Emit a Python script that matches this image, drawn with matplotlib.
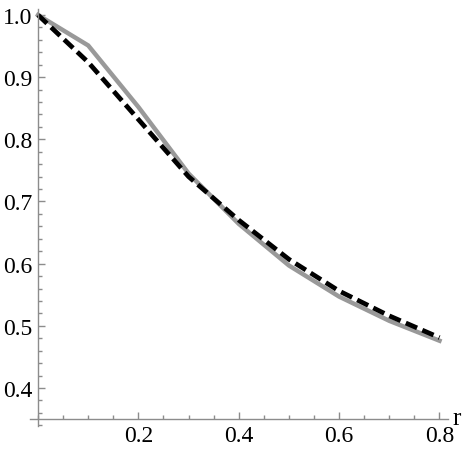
import matplotlib
matplotlib.use("Agg")
import matplotlib.pyplot as plt
from matplotlib.ticker import MultipleLocator, FixedLocator

# values
r = [0.0, 0.1, 0.2, 0.3, 0.4, 0.5, 0.6, 0.7, 0.8]
gray_curve = [1.0, 0.951, 0.852, 0.745, 0.664, 0.597, 0.547, 0.508, 0.476]
dashed_curve = [1.0, 0.924, 0.832, 0.740, 0.670, 0.607, 0.556, 0.516, 0.481]
xtick_vals = [0.2, 0.4, 0.6, 0.8]
ytick_vals = [0.4, 0.5, 0.6, 0.7, 0.8, 0.9, 1.0]

plt.rcParams['font.family'] = ['Liberation Serif', 'DejaVu Serif']

fig = plt.figure(figsize=(4.74, 4.56), dpi=100)
ax = fig.add_axes([0.0633, 0.0625, 0.8819, 0.916])

ax.plot(r, gray_curve, color='#999999', lw=3.2, solid_joinstyle='miter')
ax.plot(r, dashed_curve, color='black', lw=3.4, dashes=(2.6, 1.2))

ax.set_xlim(-0.016, 0.817)
ax.set_ylim(0.338, 1.01)

axis_col = '#8c8c8c'
for s in ['top', 'right']:
    ax.spines[s].set_visible(False)
ax.spines['left'].set_position(('data', 0.0))
ax.spines['bottom'].set_position(('data', 0.35))
for s in ['left', 'bottom']:
    ax.spines[s].set_color(axis_col)
    ax.spines[s].set_linewidth(1.0)

ax.xaxis.set_major_locator(FixedLocator(xtick_vals))
ax.yaxis.set_major_locator(FixedLocator(ytick_vals))
ax.xaxis.set_minor_locator(MultipleLocator(0.05))
ax.yaxis.set_minor_locator(MultipleLocator(0.02))
ax.set_xticklabels(['%.1f' % v for v in xtick_vals])
ax.set_yticklabels(['%.1f' % v for v in ytick_vals])

ax.tick_params(which='both', direction='in', color=axis_col, width=1.0,
               labelsize=17, labelcolor='black')
ax.tick_params(which='major', length=5, pad=4)
ax.tick_params(which='minor', length=3)

ax.annotate('r', xy=(1.0, 0.35), xycoords=('axes fraction', 'data'),
            xytext=(3, 1), textcoords='offset points',
            ha='left', va='center', fontsize=18)

fig.savefig('out.png', dpi=100)
